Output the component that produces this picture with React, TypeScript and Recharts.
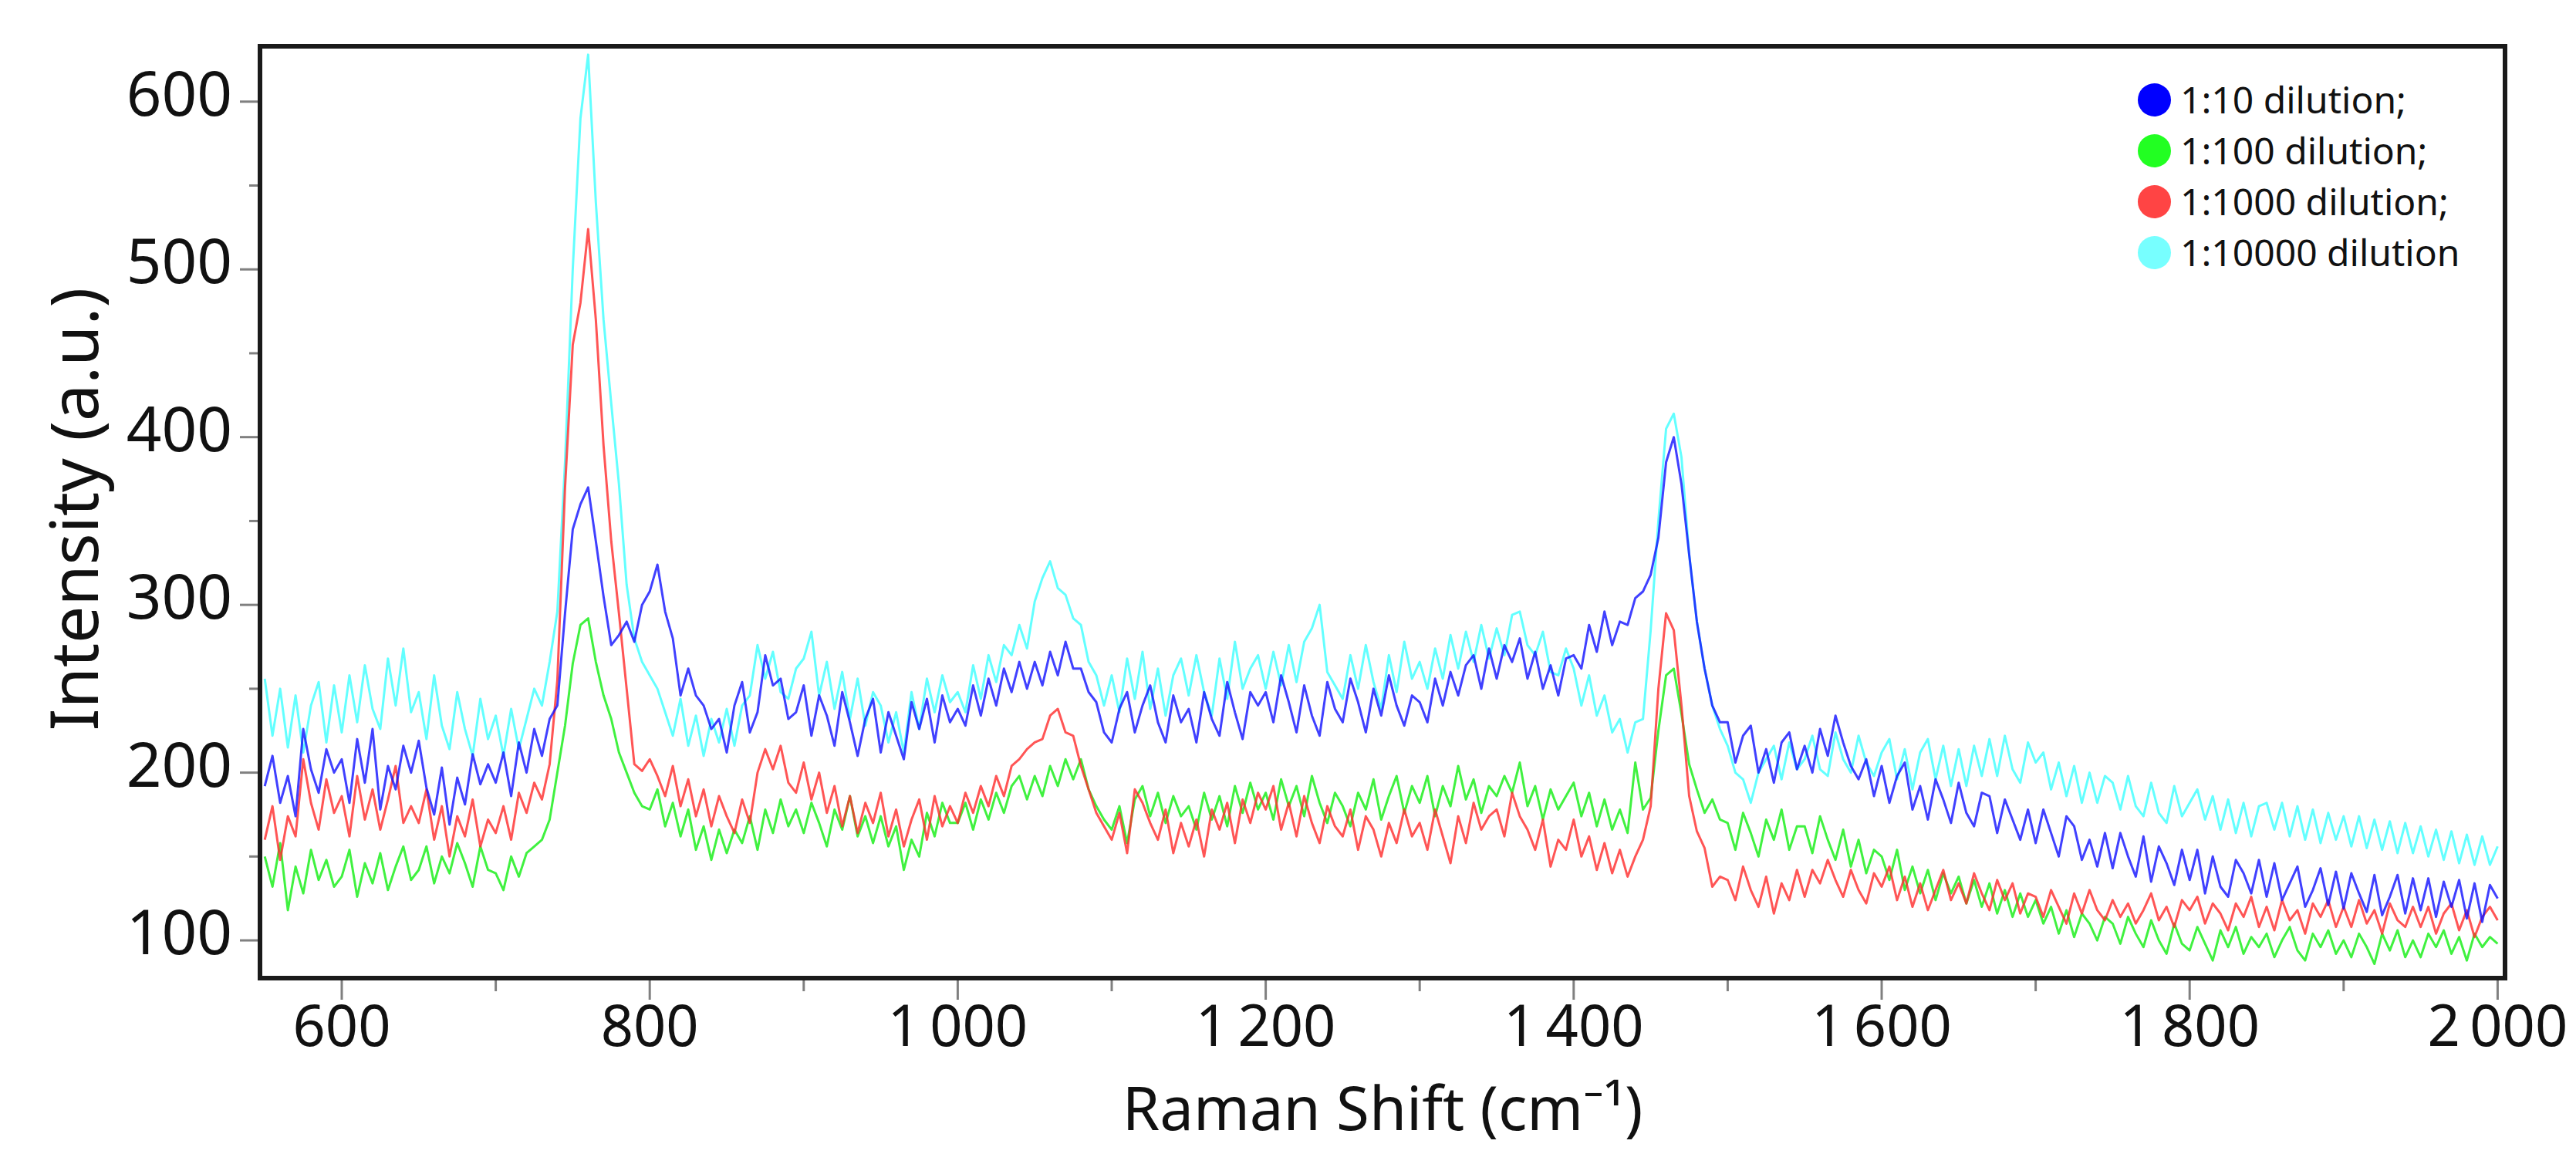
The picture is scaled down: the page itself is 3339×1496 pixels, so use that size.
import React from "react";
import { Legend, Line, LineChart, ReferenceArea, XAxis, YAxis } from "recharts";

// Raman spectra of four dilutions, sampled every 5 cm-1 from 550 to 2000.
const START = 550;
const STEP = 5;

const BLUE = [
  192, 210, 182, 198, 174, 226, 202, 188, 214, 200,
  208, 182, 220, 194, 226, 178, 204, 190, 216, 200,
  219, 191, 175, 203, 169, 197, 181, 211, 193, 205,
  194, 212, 186, 218, 200, 226, 210, 232, 240, 295,
  345, 360, 370, 338, 305, 276, 282, 290, 278, 300,
  308, 324, 296, 280, 246, 262, 246, 240, 226, 232,
  212, 240, 254, 224, 236, 270, 252, 256, 232, 236,
  252, 222, 246, 234, 216, 248, 230, 210, 232, 244,
  212, 236, 222, 208, 242, 226, 244, 218, 246, 230,
  238, 228, 252, 234, 256, 240, 262, 248, 266, 250,
  266, 252, 272, 258, 278, 262, 262, 248, 242, 224,
  218, 238, 248, 224, 240, 252, 230, 218, 246, 230,
  238, 218, 248, 232, 222, 254, 236, 220, 248, 240,
  248, 230, 258, 242, 224, 252, 234, 222, 254, 238,
  230, 256, 242, 224, 250, 234, 258, 240, 228, 246,
  242, 230, 256, 240, 260, 246, 264, 270, 250, 274,
  256, 276, 266, 280, 256, 272, 250, 264, 246, 268,
  270, 262, 288, 272, 296, 276, 290, 288, 304, 308,
  318, 340, 385, 400, 372, 330, 290, 262, 240, 230,
  230, 206, 222, 228, 200, 214, 194, 218, 224, 202,
  216, 200, 226, 210, 234, 218, 204, 196, 208, 186,
  204, 182, 198, 206, 178, 192, 172, 196, 184, 170,
  194, 176, 168, 188, 186, 164, 184, 172, 160, 178,
  158, 178, 164, 150, 174, 168, 148, 160, 144, 164,
  143, 164, 150, 138, 162, 135, 156, 146, 133, 154,
  136, 154, 128, 150, 132, 126, 148, 140, 128, 148,
  126, 146, 124, 134, 144, 120, 130, 143, 121, 141,
  119, 140, 128, 117, 139, 115, 126, 139, 116, 137,
  118, 137, 114, 135, 120, 136, 113, 134, 111, 133,
  125,
];

const GREEN = [
  150, 132, 158, 118, 144, 128, 154, 136, 148, 132,
  138, 154, 126, 146, 134, 152, 130, 144, 156, 136,
  142, 156, 134, 150, 140, 158, 146, 132, 156, 142,
  140, 130, 150, 138, 152, 156, 160, 172, 200, 228,
  265, 288, 292, 266, 246, 232, 212, 200, 188, 180,
  178, 190, 168, 182, 162, 178, 154, 168, 148, 166,
  152, 166, 158, 174, 154, 178, 164, 184, 168, 178,
  164, 182, 170, 156, 178, 166, 186, 162, 174, 158,
  174, 156, 168, 142, 160, 150, 176, 162, 182, 170,
  170, 182, 166, 184, 172, 188, 176, 192, 198, 184,
  198, 186, 204, 192, 208, 196, 208, 190, 180, 172,
  166, 180, 158, 184, 192, 174, 188, 170, 186, 174,
  180, 166, 188, 172, 186, 168, 192, 176, 194, 178,
  188, 172, 196, 180, 192, 174, 198, 182, 170, 188,
  180, 168, 188, 178, 196, 172, 186, 198, 176, 192,
  182, 198, 174, 192, 180, 204, 184, 196, 176, 192,
  186, 198, 188, 206, 180, 192, 172, 190, 178, 186,
  194, 174, 188, 168, 184, 166, 178, 164, 206, 178,
  185, 225, 258, 262, 235, 205, 190, 176, 184, 172,
  170, 154, 176, 164, 150, 172, 160, 178, 154, 168,
  168, 152, 174, 160, 148, 166, 144, 160, 140, 154,
  150, 136, 154, 130, 144, 128, 142, 124, 140, 128,
  138, 122, 136, 120, 134, 116, 130, 114, 128, 114,
  124, 110, 120, 104, 118, 102, 116, 110, 100, 114,
  110, 98, 114, 104, 96, 112, 100, 92, 110, 98,
  94, 108, 98, 88, 106, 96, 108, 92, 102, 96,
  104, 90, 100, 108, 94, 88, 104, 96, 106, 92,
  100, 90, 104, 96, 86, 104, 94, 106, 90, 100,
  90, 104, 96, 106, 92, 102, 88, 104, 96, 102,
  98,
];

const RED = [
  160, 180, 148, 174, 162, 208, 182, 166, 196, 176,
  186, 162, 198, 172, 190, 166, 184, 204, 170, 180,
  170, 190, 160, 180, 150, 174, 162, 184, 156, 172,
  164, 180, 160, 188, 176, 194, 184, 205, 255, 370,
  455, 480, 524, 470, 395, 338, 295, 250, 205, 201,
  208, 198, 186, 204, 180, 196, 174, 190, 168, 186,
  174, 164, 184, 170, 200, 214, 202, 216, 194, 188,
  206, 184, 200, 176, 192, 168, 186, 164, 182, 170,
  188, 162, 178, 156, 172, 184, 160, 186, 168, 180,
  170, 188, 176, 192, 180, 198, 186, 204, 208, 214,
  218, 220, 234, 238, 224, 222, 204, 190, 176, 168,
  160, 176, 152, 190, 182, 170, 160, 178, 152, 170,
  156, 172, 150, 178, 166, 182, 158, 184, 170, 188,
  178, 192, 166, 182, 162, 186, 170, 158, 180, 168,
  162, 178, 154, 174, 166, 150, 170, 158, 178, 162,
  170, 154, 178, 162, 146, 174, 158, 182, 166, 174,
  178, 162, 188, 174, 166, 154, 172, 144, 160, 154,
  172, 150, 162, 142, 158, 140, 154, 138, 150, 160,
  180, 250, 295, 285, 240, 186, 165, 155, 132, 138,
  136, 124, 144, 130, 120, 138, 116, 134, 124, 142,
  126, 142, 134, 148, 136, 126, 142, 130, 122, 140,
  132, 144, 124, 138, 120, 134, 118, 130, 142, 124,
  134, 122, 140, 128, 118, 136, 124, 134, 116, 128,
  126, 114, 130, 120, 110, 128, 116, 130, 118, 112,
  124, 114, 122, 110, 118, 128, 112, 120, 108, 124,
  118, 126, 110, 122, 116, 106, 122, 114, 126, 108,
  120, 106, 124, 112, 118, 104, 122, 114, 124, 108,
  120, 108, 124, 110, 118, 104, 122, 112, 108, 120,
  108, 120, 104, 116, 122, 106, 118, 102, 114, 120,
  112,
];

const CYAN = [
  256, 222, 250, 215, 246, 212, 240, 254, 218, 252,
  224, 258, 230, 264, 238, 226, 268, 240, 274, 236,
  248, 220, 258, 228, 214, 248, 226, 210, 244, 220,
  234, 210, 238, 214, 232, 250, 240, 266, 296, 385,
  500, 590, 628, 540, 470, 420, 372, 312, 280, 266,
  258, 250, 236, 222, 244, 216, 234, 210, 232, 218,
  238, 216, 240, 246, 276, 256, 272, 248, 244, 262,
  268, 284, 246, 266, 238, 260, 232, 256, 228, 248,
  240, 218, 236, 212, 248, 226, 256, 236, 258, 242,
  248, 236, 264, 244, 270, 254, 276, 270, 288, 274,
  302, 316, 326, 310, 306, 292, 288, 266, 258, 240,
  258, 236, 268, 244, 272, 238, 262, 234, 258, 268,
  246, 270, 248, 234, 268, 244, 278, 250, 262, 270,
  250, 272, 252, 276, 254, 278, 286, 300, 260, 252,
  244, 270, 250, 276, 254, 238, 270, 248, 278, 256,
  266, 250, 274, 256, 282, 262, 284, 266, 288, 268,
  286, 270, 294, 296, 276, 270, 284, 260, 258, 274,
  262, 240, 258, 234, 246, 224, 232, 212, 230, 232,
  285, 350, 405, 414, 388, 330, 290, 262, 240, 226,
  216, 200, 196, 182, 200, 208, 216, 196, 218, 202,
  208, 222, 202, 198, 224, 208, 200, 222, 206, 198,
  212, 220, 196, 214, 190, 212, 220, 196, 216, 192,
  214, 192, 216, 198, 220, 198, 222, 202, 194, 218,
  206, 212, 190, 206, 186, 204, 182, 200, 182, 198,
  194, 178, 198, 180, 174, 194, 176, 170, 192, 174,
  182, 190, 172, 186, 166, 184, 164, 182, 162, 180,
  182, 166, 182, 162, 180, 160, 178, 158, 176, 160,
  174, 156, 174, 155, 172, 154, 171, 152, 170, 152,
  168, 150, 166, 148, 165, 146, 163, 145, 162, 145,
  156,
];

const X_TICKS = [600, 700, 800, 900, 1000, 1100, 1200, 1300, 1400, 1500, 1600, 1700, 1800, 1900, 2000];
const Y_TICKS = [100, 150, 200, 250, 300, 350, 400, 450, 500, 550, 600];
const X_DOMAIN: [number, number] = [546.9, 2004.8];
const Y_DOMAIN: [number, number] = [77.5, 633];

const SERIES = [
  { key: "d10", name: "1:10 dilution;", values: BLUE, line: "#1010ff", dot: "#0000ff" },
  { key: "d100", name: "1:100 dilution;", values: GREEN, line: "#10ee10", dot: "#22ff22" },
  { key: "d1000", name: "1:1000 dilution;", values: RED, line: "#ff2a2a", dot: "#ff4444" },
  { key: "d10000", name: "1:10000 dilution", values: CYAN, line: "#3cffff", dot: "#77ffff" },
];

// drawing order: cyan underneath, blue on top
const DRAW_ORDER = ["d10000", "d100", "d1000", "d10"];

const FONT = '"Noto Sans", "Open Sans", sans-serif';
const INK = "#111";
const TICK_GREY = "#808080";
const FRAME = "#1a1a1a";

const data = BLUE.map((_, i) => {
  const row: Record<string, number> = { shift: START + i * STEP };
  SERIES.forEach((s) => {
    row[s.key] = s.values[i];
  });
  return row;
});

function fmtShift(v: number) {
  if (v < 1000) return String(v);
  return `${Math.floor(v / 1000)}\u2009${String(v % 1000).padStart(3, "0")}`;
}

function XTick(props: any) {
  const { x, y, payload } = props;
  const v = payload.value;
  const major = v % 200 === 0;
  return (
    <g>
      <line x1={x} x2={x} y1={y + 3} y2={y + (major ? 28 : 17)} stroke={TICK_GREY} strokeWidth={3} />
      {major && (
        <text x={x} y={y + 88} textAnchor="middle" fontFamily={FONT} fontSize={74} fill={INK}>
          {fmtShift(v)}
        </text>
      )}
    </g>
  );
}

function YTick(props: any) {
  const { x, y, payload } = props;
  const v = payload.value;
  const major = v % 100 === 0;
  return (
    <g>
      <line x1={x - (major ? 26 : 14)} x2={x - 3} y1={y} y2={y} stroke={TICK_GREY} strokeWidth={3} />
      {major && (
        <text x={x - 36} y={y + 18} textAnchor="end" fontFamily={FONT} fontSize={80} fill={INK}>
          {v}
        </text>
      )}
    </g>
  );
}

function XTitle() {
  return (
    <text x={1792} y={1465} textAnchor="middle" fontFamily={FONT} fontSize={78} fill={INK}>
      Raman Shift (cm⁻¹)
    </text>
  );
}

function YTitle() {
  return (
    <text
      transform="translate(127, 660) rotate(-90)"
      textAnchor="middle"
      fontFamily={FONT}
      fontSize={86}
      fill={INK}
    >
      Intensity (a.u.)
    </text>
  );
}

function LegendBox() {
  return (
    <div style={{ fontFamily: FONT, fontSize: 48, color: INK }}>
      {SERIES.map((s) => (
        <div key={s.key} style={{ display: "flex", alignItems: "center", height: 66 }}>
          <span
            style={{
              display: "inline-block",
              width: 43,
              height: 43,
              borderRadius: "50%",
              background: s.dot,
              marginRight: 12,
            }}
          />
          <span style={{ lineHeight: 1 }}>{s.name}</span>
        </div>
      ))}
    </div>
  );
}

export default function App() {
  return (
    <div style={{ position: "absolute", left: 0, top: 0, width: 3339, height: 1496, background: "#fff" }}>
      <LineChart width={3339} height={1496} data={data} margin={{ top: 60, right: 92, bottom: 28, left: 37 }}>
        <XAxis
          dataKey="shift"
          type="number"
          domain={X_DOMAIN}
          ticks={X_TICKS}
          allowDataOverflow
          height={200}
          tickSize={0}
          tickMargin={0}
          tickLine={false}
          tick={<XTick />}
          axisLine={false}
          label={<XTitle />}
        />
        <YAxis
          type="number"
          domain={Y_DOMAIN}
          ticks={Y_TICKS}
          allowDataOverflow
          width={300}
          tickSize={0}
          tickMargin={0}
          tickLine={false}
          tick={<YTick />}
          axisLine={false}
          label={<YTitle />}
        />
        <Legend
          layout="horizontal"
          verticalAlign="middle"
          align="center"
          content={<LegendBox />}
          wrapperStyle={{ top: 96, left: 2771, width: 480, height: 270 }}
        />
        {DRAW_ORDER.map((k) => {
          const s = SERIES.find((it) => it.key === k)!;
          return (
            <Line
              key={s.key}
              dataKey={s.key}
              name={s.name}
              type="linear"
              stroke={s.line}
              strokeWidth={3}
              strokeOpacity={0.8}
              strokeLinejoin="round"
              dot={false}
              activeDot={false}
              isAnimationActive={false}
              legendType="circle"
            />
          );
        })}
        {/* plot frame */}
        <ReferenceArea
          x1={X_DOMAIN[0]}
          x2={X_DOMAIN[1]}
          y1={Y_DOMAIN[0]}
          y2={Y_DOMAIN[1]}
          fill="none"
          stroke={FRAME}
          strokeWidth={6}
          ifOverflow="visible"
        />
      </LineChart>
    </div>
  );
}
